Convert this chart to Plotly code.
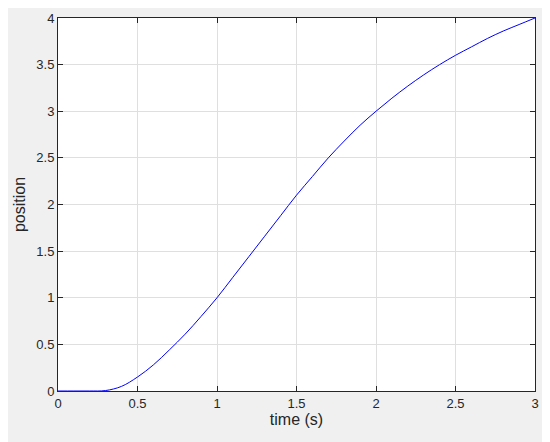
import plotly.graph_objects as go

t = [0,0.1,0.2,0.3,0.4,0.5,0.6,0.7,0.8,0.9,1.0,1.1,1.2,1.3,1.4,1.5,1.6,1.7,1.8,1.9,2.0,2.1,2.2,2.3,2.4,2.5,2.6,2.7,2.8,2.9,3.0]
pos = [0,0,0,0.005,0.05,0.15,0.28,0.44,0.61,0.8,1.0,1.22,1.44,1.66,1.88,2.1,2.3,2.5,2.68,2.85,3.0,3.14,3.27,3.39,3.5,3.6,3.69,3.78,3.86,3.93,4.0]
xticks = [0,0.5,1,1.5,2,2.5,3]
yticks = [0,0.5,1,1.5,2,2.5,3,3.5,4]

fig = go.Figure(go.Scatter(x=t, y=pos, mode="lines", line=dict(color="#0000ff", width=1, shape="spline")))
ax = dict(showline=True, linecolor="#262626", linewidth=1, mirror="allticks", showgrid=True,
          gridcolor="#dfdfdf", zeroline=False, ticks="inside", ticklen=5, tickcolor="#262626",
          automargin=False,
          tickfont=dict(family="Liberation Sans", size=13, color="#262626"))
fig.update_layout(width=550, height=442, paper_bgcolor="#f0f0f0", plot_bgcolor="white",
                  margin=dict(l=50, r=23, t=10, b=59), showlegend=False,
                  font=dict(family="Liberation Sans", size=13, color="#262626"))
fig.update_xaxes(ax, range=[0,3], tickvals=xticks, ticktext=[str(v) for v in xticks],
                 title=dict(text="time (s)", standoff=2))
fig.update_yaxes(ax, range=[0,4], tickvals=yticks, ticktext=[str(v) for v in yticks],
                 title=dict(text="position", standoff=6))
fig.write_html("out.html")
